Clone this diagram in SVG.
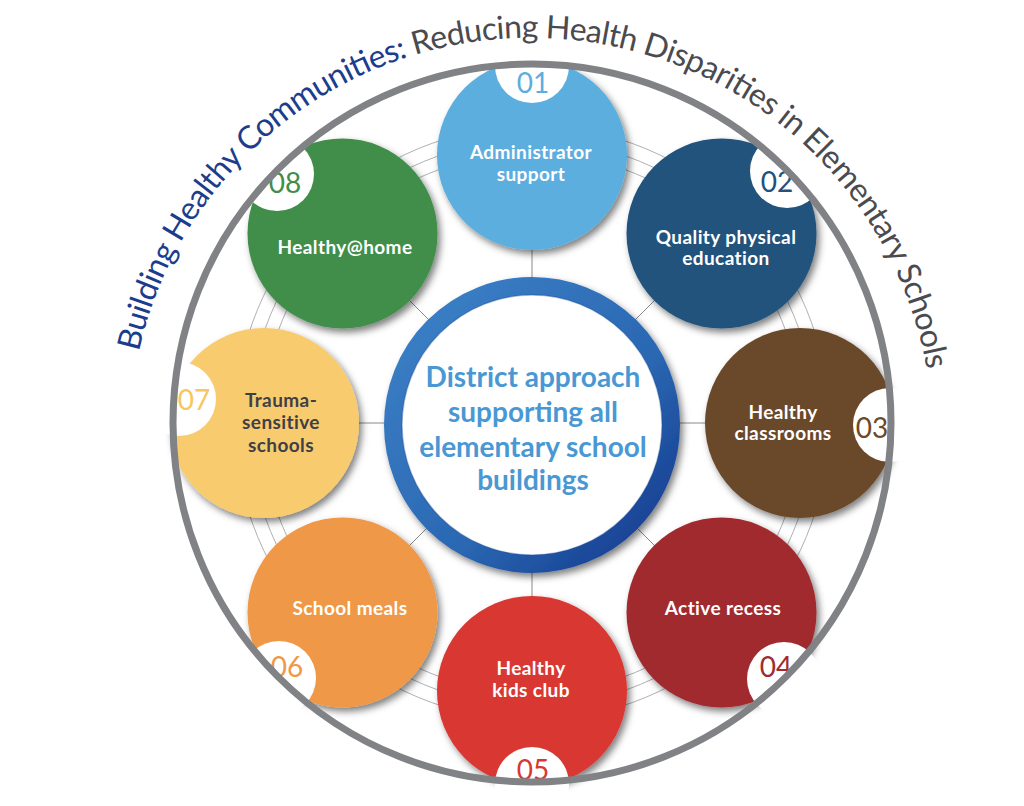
<svg xmlns="http://www.w3.org/2000/svg" xmlns:xlink="http://www.w3.org/1999/xlink" width="1024" height="806" viewBox="0 0 1024 806">
<style>
.lbl{font-family:Lato,"Noto Sans","Liberation Sans",sans-serif;font-weight:700;font-size:19px;letter-spacing:0.4px;fill:#ffffff;text-anchor:middle}
.dark{fill:#3f3f48}
.num{font-family:Lato,"Noto Sans","Liberation Sans",sans-serif;font-weight:400;font-size:28px;text-anchor:middle}
.ctr{font-family:Lato,"Noto Sans","Liberation Sans",sans-serif;font-weight:700;font-size:28px;fill:#4a98d3;text-anchor:middle}
.spoke{stroke:#8a8a8a;stroke-width:1}
.arc{fill:none;stroke:#9c9c9c;stroke-width:0.8}
.badge{fill:#ffffff}
.node{filter:url(#sh)}
.title{font-family:Lato,"Noto Sans","Liberation Sans",sans-serif;font-weight:400;font-size:32px}
</style>
<defs>
<filter id="sh" x="-20%" y="-20%" width="150%" height="150%">
<feDropShadow dx="3" dy="4" stdDeviation="3.5" flood-color="#000" flood-opacity="0.5"/>
</filter>
<linearGradient id="ringg" x1="0" y1="0" x2="1" y2="1">
<stop offset="0" stop-color="#3d82c8"/>
<stop offset="0.6" stop-color="#2a67b2"/>
<stop offset="1" stop-color="#12358a"/>
</linearGradient>
<path id="tp" d="M138.8,351.6 A402,402 0 0 1 926.8,369.5"/>
</defs>
<rect width="1024" height="806" fill="#ffffff"/>

<g id="connectors">
<circle class="arc" cx="532" cy="423" r="270"/>
<circle class="arc" cx="532" cy="423" r="283"/>
<circle class="arc" cx="532" cy="423" r="297"/>
<line class="spoke" x1="532" y1="423" x2="532" y2="155"/>
<line class="spoke" x1="532" y1="423" x2="721.5" y2="233.5"/>
<line class="spoke" x1="532" y1="423" x2="800" y2="423"/>
<line class="spoke" x1="532" y1="423" x2="721.5" y2="612.5"/>
<line class="spoke" x1="532" y1="423" x2="532" y2="691"/>
<line class="spoke" x1="532" y1="423" x2="342.5" y2="612.5"/>
<line class="spoke" x1="532" y1="423" x2="264" y2="423"/>
<line class="spoke" x1="532" y1="423" x2="342.5" y2="233.5"/>
</g>

<g id="node-01">
<circle class="node" cx="532" cy="155" r="95" fill="#5baedf"/>
<circle class="badge" cx="532" cy="66" r="37"/>
<text class="num" x="533" y="93" fill="#5baedf">01</text>
<text class="lbl" x="531" y="159">Administrator</text>
<text class="lbl" x="531" y="181">support</text>
</g>

<g id="node-02">
<circle class="node" cx="721.5" cy="233.5" r="95" fill="#22527c"/>
<circle class="badge" cx="787" cy="171" r="37"/>
<text class="num" x="777" y="192" fill="#22527c">02</text>
<text class="lbl" x="726" y="244">Quality physical</text>
<text class="lbl" x="726" y="265">education</text>
</g>

<g id="node-03">
<circle class="node" cx="800" cy="423" r="95" fill="#6b4a2a"/>
<circle class="badge" cx="890" cy="425" r="37"/>
<text class="num" x="872" y="438" fill="#6b4a2a">03</text>
<text class="lbl" x="783" y="419">Healthy</text>
<text class="lbl" x="783" y="440">classrooms</text>
</g>

<g id="node-04">
<circle class="node" cx="721.5" cy="612.5" r="95" fill="#a12b2f"/>
<circle class="badge" cx="784" cy="679" r="37"/>
<text class="num" x="776" y="677" fill="#a12b2f">04</text>
<text class="lbl" x="723" y="615">Active recess</text>
</g>

<g id="node-05">
<circle class="node" cx="532" cy="691" r="95" fill="#d93832"/>
<circle class="badge" cx="532" cy="784" r="37"/>
<text class="num" x="533" y="780" fill="#d93832">05</text>
<text class="lbl" x="531" y="675">Healthy</text>
<text class="lbl" x="531" y="697">kids club</text>
</g>

<g id="node-06">
<circle class="node" cx="342.5" cy="612.5" r="95" fill="#ef9847"/>
<circle class="badge" cx="279" cy="678" r="37"/>
<text class="num" x="287" y="677" fill="#ef9847">06</text>
<text class="lbl" x="350" y="615">School meals</text>
</g>

<g id="node-07">
<circle class="node" cx="264" cy="423" r="95" fill="#f7cb6e"/>
<circle class="badge" cx="179" cy="399" r="37"/>
<text class="num" x="194" y="410" fill="#f7c660">07</text>
<text class="lbl dark" x="281" y="407">Trauma-</text>
<text class="lbl dark" x="281" y="429">sensitive</text>
<text class="lbl dark" x="281" y="452">schools</text>
</g>

<g id="node-08">
<circle class="node" cx="342.5" cy="233.5" r="95" fill="#3f8e4a"/>
<circle class="badge" cx="277" cy="174" r="37"/>
<text class="num" x="285" y="193" fill="#3f8e4a">08</text>
<text class="lbl" x="345" y="254">Healthy@home</text>
</g>

<g id="center">
<circle cx="532" cy="425" r="139" fill="#ffffff" stroke="url(#ringg)" stroke-width="18" filter="url(#sh)"/>
<circle cx="532" cy="425" r="130" fill="none" stroke="#1d4a95" stroke-opacity="0.35" stroke-width="1.5"/>
<text class="ctr" x="533" y="387">District approach</text>
<text class="ctr" x="533" y="422">supporting all</text>
<text class="ctr" x="533" y="457">elementary school</text>
<text class="ctr" x="533" y="490">buildings</text>
</g>

<g id="outer-ring">
<circle cx="532" cy="423" r="359" fill="none" stroke="#808285" stroke-width="7"/>
</g>

<g id="title">
<text class="title"><textPath xlink:href="#tp" href="#tp" textLength="1103" lengthAdjust="spacing"><tspan fill="#1c3d8c">Building Healthy Communities:</tspan><tspan fill="#4a4a4f"> Reducing Health Disparities in Elementary Schools</tspan></textPath></text>
</g>
</svg>
